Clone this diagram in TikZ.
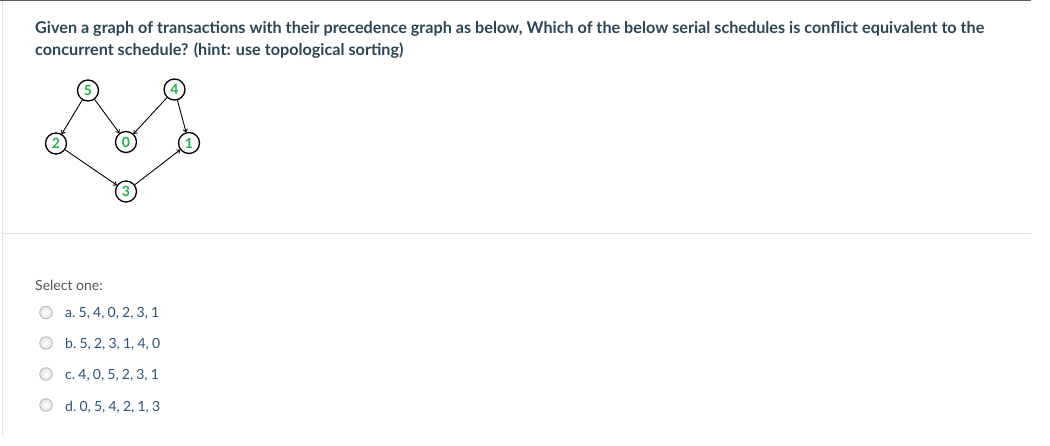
\documentclass[tikz,border=0pt]{standalone}
\usepackage{fontspec}
\setmainfont{Lato}
\usetikzlibrary{arrows.meta}
\definecolor{qtext}{HTML}{2A4556}
\definecolor{otext}{HTML}{2B5278}
\definecolor{gtext}{HTML}{555555}
\definecolor{ngreen}{HTML}{22B14C}
\definecolor{radiobd}{HTML}{B5B5B5}
\definecolor{radiofill}{HTML}{E4E4E4}
\newcommand{\osp}{\hspace{3.2pt}}
\tikzset{
  gnode/.style={circle,draw=black,line width=1.3pt,minimum size=21pt,inner sep=0pt,
     text=ngreen,font=\fontsize{14}{14}\selectfont\bfseries},
  gedge/.style={line width=0.9pt,-{To[length=3.5pt,width=5pt]}},
  qline/.style={anchor=base west,text=qtext,font=\fontsize{16.2}{18}\selectfont\bfseries,inner sep=0pt},
  optline/.style={anchor=base west,text=otext,font=\fontsize{14}{16}\selectfont,inner sep=0pt},
  radio/.style={circle,draw=radiobd,inner color=white,outer color=radiofill,line width=0.8pt,minimum size=12.5pt,inner sep=0pt}
}
\begin{document}
\begin{tikzpicture}[x=1pt,y=-1pt]
\useasboundingbox (0,0) rectangle (1050,446);
\fill[white] (0,0) rectangle (1050,446);
% frame lines
\draw[draw=black!65,line width=1.2pt] (0,0.6) -- (1031,0.6);
\draw[draw=black!12,line width=1pt] (2.5,1) -- (2.5,435);
\draw[draw=black!12,line width=1pt] (3,233.5) -- (1031,233.5);
% question
\node[qline] (q1) at (35,34) {Given a graph of transactions with their precedence graph as below, Which of the below serial schedules is conflict equivalent to the};
\node[qline] (q2) at (35,56) {concurrent schedule? (hint: use topological sorting)};
% graph
\node[gnode] (n5) at (88,90.5) {5};
\node[gnode] (n4) at (174.5,89.5) {4};
\node[gnode] (n2) at (56,143.5) {2};
\node[gnode] (n0) at (126,142) {0};
\node[gnode] (n1) at (189,143) {1};
\node[gnode] (n3) at (126,191.5) {3};
\draw[gedge] (n5) -- (n2);
\draw[gedge] (n5) -- (n0);
\draw[gedge] (n4) -- (n0);
\draw[gedge] (n4) -- (n1);
\draw[gedge] (n2) -- (n3);
\draw[gedge] (n3) -- (n1);
% options
\node[anchor=base west,text=gtext,font=\fontsize{14}{16}\selectfont,inner sep=0pt] (sel) at (35,291) {Select one:};
\node[radio] (ra) at (46,312.5) {};
\node[radio] (rb) at (46,343) {};
\node[radio] (rc) at (46,374) {};
\node[radio] (rd) at (46,405) {};
\node[optline] (oa) at (65,318) {a.\osp5,\osp4,\osp0,\osp2,\osp3,\osp1};
\node[optline] (ob) at (65,349) {b.\osp5,\osp2,\osp3,\osp1,\osp4,\osp0};
\node[optline] (oc) at (65,380) {c.\osp4,\osp0,\osp5,\osp2,\osp3,\osp1};
\node[optline] (od) at (65,411) {d.\osp0,\osp5,\osp4,\osp2,\osp1,\osp3};
\end{tikzpicture}
\end{document}
